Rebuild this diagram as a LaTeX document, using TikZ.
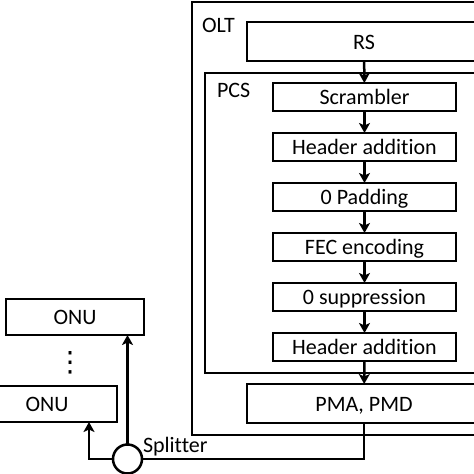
\documentclass[tikz,border=0pt]{standalone}
\usepackage{fontspec}
\setmainfont{Carlito}[Ligatures={NoCommon,NoContextual}]
\newfontfamily\symfont{DejaVu Sans}
\usetikzlibrary{arrows.meta,positioning}

\begin{document}
\begin{tikzpicture}
  [
    x = 1pt,
    y = -1pt,
    font = \fontsize{22}{26}\selectfont,
    line width = 2.5pt,
    every node/.style = {
      inner sep = 0pt,
      outer sep = 0pt,
    },
    stage/.style = {
      draw,
      minimum width = 183pt,
      minimum height = 28pt,
      text height = 15.5pt,
      text depth = 0pt,
    },
    wide/.style = {
      draw,
      minimum width = 234pt,
      minimum height = 39pt,
      text height = 15.5pt,
      text depth = 0pt,
    },
    unit/.style = {
      draw,
      minimum height = 36pt,
      text height = 15.5pt,
      text depth = 0pt,
    },
    frame/.style = {
      draw,
      anchor = north west,
    },
    tag/.style = {
      anchor = base west,
    },
    > = {Stealth[length=10pt,width=11pt,inset=2.5pt]},
  ]

  \useasboundingbox (0,0) rectangle (474,474);
  \clip (0,0) rectangle (474,474);

  \node (olt) [frame, minimum width=320pt, minimum height=433pt] at (192,2) {};
  \node (oltlabel) [tag] at (202,32) {OLT};
  \node (rs) [wide] at (364,41.5) {RS};

  \node (pcs) [frame, minimum width=300pt, minimum height=300pt] at (205,73) {};
  \node (pcslabel) [tag] at (217,97) {PCS};

  \node (scr) [stage] at (364.5,97) {Scrambler};
  \node (hdr1) [stage, below = 22pt of scr] {Header addition};
  \node (pad) [stage, below = 22pt of hdr1] {0 Padding};
  \node (fec) [stage, below = 22pt of pad] {FEC encoding};
  \node (supp) [stage, below = 22pt of fec] {0 suppression};
  \node (hdr2) [stage, below = 22pt of supp] {Header addition};

  \node (pma) [wide] at (364,403.5) {PMA, PMD};

  \node (onutop) [unit, minimum width=138pt] at (75,317) {ONU};
  \node (onubot) [unit, minimum width=140pt] at (47,404) {ONU};
  \node (dots) [font=\symfont\fontsize{28}{28}\selectfont] at (70,362.5) {⋮};

  \node (split) [draw, circle, minimum size=29pt] at (127.5,459) {};
  \node (splitlabel) [tag] at (143,452) {Splitter};

  \coordinate (bend) at (89,459);

  \draw [->] (rs) -- (scr);
  \foreach \from/\to in {scr/hdr1, hdr1/pad, pad/fec, fec/supp, supp/hdr2, hdr2/pma}
    \draw [->] (\from) -- (\to);

  \draw (pma.south) |- (split.east);
  \draw [->] (split.north) -- (split.north |- onutop.south);
  \draw [->] (split.west) -- (bend) -- (bend |- onubot.south);

\end{tikzpicture}
\end{document}
